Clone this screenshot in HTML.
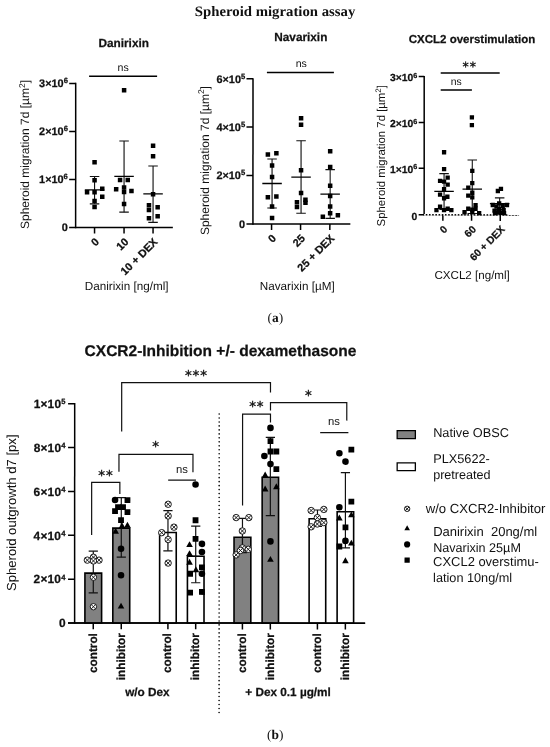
<!DOCTYPE html>
<html><head><meta charset="utf-8"><title>Spheroid migration assay</title>
<style>html,body{margin:0;padding:0;background:#fff;}svg{display:block;}text{text-rendering:geometricPrecision;font-family:'Liberation Sans', sans-serif;fill:#111;}</style></head><body>
<svg width="550" height="747" viewBox="0 0 550 747">
<rect width="550" height="747" fill="#fff"/>
<g transform="rotate(0.02 275 373)">
<text x="275.0" y="15.6" font-size="14.4" font-weight="bold" text-anchor="middle" style="font-family:'Liberation Serif', serif" textLength="160.5" lengthAdjust="spacingAndGlyphs">Spheroid migration assay</text>
<path d="M75.60 82.85 L75.60 228.25" stroke="#000" stroke-width="1.5" fill="none" />
<path d="M69.10 227.60 L172.80 227.60" stroke="#000" stroke-width="1.5" fill="none" />
<path d="M69.10 83.50 L75.60 83.50" stroke="#000" stroke-width="1.5" fill="none" />
<text x="67.80" y="87.42" font-size="10.9" text-anchor="end" font-weight="bold" stroke="#111" stroke-width="0.25" letter-spacing="0">3×10<tspan font-size="7.63" dy="-3.92">6</tspan></text>
<path d="M69.10 131.50 L75.60 131.50" stroke="#000" stroke-width="1.5" fill="none" />
<text x="67.80" y="135.42" font-size="10.9" text-anchor="end" font-weight="bold" stroke="#111" stroke-width="0.25" letter-spacing="0">2×10<tspan font-size="7.63" dy="-3.92">6</tspan></text>
<path d="M69.10 179.50 L75.60 179.50" stroke="#000" stroke-width="1.5" fill="none" />
<text x="67.80" y="183.42" font-size="10.9" text-anchor="end" font-weight="bold" stroke="#111" stroke-width="0.25" letter-spacing="0">1×10<tspan font-size="7.63" dy="-3.92">6</tspan></text>
<text x="67.80" y="231.52" font-size="10.9" text-anchor="end" font-weight="bold" stroke="#111" stroke-width="0.25" >0</text>
<path d="M94.50 227.60 L94.50 233.60" stroke="#000" stroke-width="1.5" fill="none" />
<text x="99.70" y="242.60" font-size="10.9" text-anchor="end" font-weight="bold" stroke="#111" stroke-width="0.25" transform="rotate(-45 99.70 242.60)" >0</text>
<path d="M124.00 227.60 L124.00 233.60" stroke="#000" stroke-width="1.5" fill="none" />
<text x="129.20" y="242.60" font-size="10.9" text-anchor="end" font-weight="bold" stroke="#111" stroke-width="0.25" transform="rotate(-45 129.20 242.60)" >10</text>
<path d="M153.00 227.60 L153.00 233.60" stroke="#000" stroke-width="1.5" fill="none" />
<text x="158.20" y="242.60" font-size="10.9" text-anchor="end" font-weight="bold" stroke="#111" stroke-width="0.25" transform="rotate(-45 158.20 242.60)" >10 + DEX</text>
<path d="M94.50 176.50 L94.50 203.90" stroke="#111" stroke-width="1.1" fill="none" />
<path d="M89.75 176.50 L99.25 176.50" stroke="#111" stroke-width="1.1" fill="none" />
<path d="M89.75 203.90 L99.25 203.90" stroke="#111" stroke-width="1.1" fill="none" />
<path d="M84.75 190.00 L104.25 190.00" stroke="#000" stroke-width="1.3" fill="none" />
<rect x="92.25" y="160.15" width="4.5" height="4.5" fill="#000"/>
<rect x="92.25" y="177.95" width="4.5" height="4.5" fill="#000"/>
<rect x="84.75" y="190.05" width="4.5" height="4.5" fill="#000"/>
<rect x="92.25" y="190.05" width="4.5" height="4.5" fill="#000"/>
<rect x="99.95" y="186.55" width="4.5" height="4.5" fill="#000"/>
<rect x="99.95" y="194.65" width="4.5" height="4.5" fill="#000"/>
<rect x="92.25" y="198.75" width="4.5" height="4.5" fill="#000"/>
<rect x="92.25" y="204.75" width="4.5" height="4.5" fill="#000"/>
<path d="M124.00 141.00 L124.00 212.20" stroke="#111" stroke-width="1.1" fill="none" />
<path d="M119.25 141.00 L128.75 141.00" stroke="#111" stroke-width="1.1" fill="none" />
<path d="M119.25 212.20 L128.75 212.20" stroke="#111" stroke-width="1.1" fill="none" />
<path d="M114.25 176.50 L133.75 176.50" stroke="#000" stroke-width="1.3" fill="none" />
<rect x="121.75" y="88.15" width="4.5" height="4.5" fill="#000"/>
<rect x="117.75" y="177.75" width="4.5" height="4.5" fill="#000"/>
<rect x="125.45" y="177.75" width="4.5" height="4.5" fill="#000"/>
<rect x="113.85" y="186.95" width="4.5" height="4.5" fill="#000"/>
<rect x="121.75" y="185.25" width="4.5" height="4.5" fill="#000"/>
<rect x="121.75" y="189.85" width="4.5" height="4.5" fill="#000"/>
<rect x="129.15" y="188.75" width="4.5" height="4.5" fill="#000"/>
<rect x="121.75" y="201.85" width="4.5" height="4.5" fill="#000"/>
<path d="M153.00 166.10 L153.00 222.40" stroke="#111" stroke-width="1.1" fill="none" />
<path d="M148.25 166.10 L157.75 166.10" stroke="#111" stroke-width="1.1" fill="none" />
<path d="M148.25 222.40 L157.75 222.40" stroke="#111" stroke-width="1.1" fill="none" />
<path d="M143.25 194.00 L162.75 194.00" stroke="#000" stroke-width="1.3" fill="none" />
<rect x="150.75" y="143.55" width="4.5" height="4.5" fill="#000"/>
<rect x="150.75" y="153.95" width="4.5" height="4.5" fill="#000"/>
<rect x="150.75" y="191.95" width="4.5" height="4.5" fill="#000"/>
<rect x="146.65" y="202.95" width="4.5" height="4.5" fill="#000"/>
<rect x="155.35" y="204.95" width="4.5" height="4.5" fill="#000"/>
<rect x="146.65" y="207.85" width="4.5" height="4.5" fill="#000"/>
<rect x="155.35" y="214.15" width="4.5" height="4.5" fill="#000"/>
<rect x="146.65" y="216.15" width="4.5" height="4.5" fill="#000"/>
<text x="123.60" y="46.80" font-size="11.8" text-anchor="middle" font-weight="bold" stroke="#111" stroke-width="0.25" >Danirixin</text>
<text x="126.60" y="290.40" font-size="11.7" text-anchor="middle" >Danirixin [ng/ml]</text>
<text x="29.20" y="154.60" font-size="12.0" text-anchor="middle" transform="rotate(-90 29.20 154.60)">Spheroid migration 7d [µm<tspan font-size="8.40" dy="-4.56">2</tspan><tspan dy="4.56">]</tspan></text>
<path d="M89.00 76.40 L157.00 76.40" stroke="#000" stroke-width="1.5" fill="none" />
<text x="123.00" y="70.80" font-size="10.6" text-anchor="middle" >ns</text>
<path d="M252.90 78.15 L252.90 224.65" stroke="#000" stroke-width="1.5" fill="none" />
<path d="M246.40 224.00 L350.30 224.00" stroke="#000" stroke-width="1.5" fill="none" />
<path d="M246.40 78.80 L252.90 78.80" stroke="#000" stroke-width="1.5" fill="none" />
<text x="245.10" y="82.72" font-size="10.9" text-anchor="end" font-weight="bold" stroke="#111" stroke-width="0.25" letter-spacing="0">6×10<tspan font-size="7.63" dy="-3.92">5</tspan></text>
<path d="M246.40 127.00 L252.90 127.00" stroke="#000" stroke-width="1.5" fill="none" />
<text x="245.10" y="130.92" font-size="10.9" text-anchor="end" font-weight="bold" stroke="#111" stroke-width="0.25" letter-spacing="0">4×10<tspan font-size="7.63" dy="-3.92">5</tspan></text>
<path d="M246.40 175.40 L252.90 175.40" stroke="#000" stroke-width="1.5" fill="none" />
<text x="245.10" y="179.32" font-size="10.9" text-anchor="end" font-weight="bold" stroke="#111" stroke-width="0.25" letter-spacing="0">2×10<tspan font-size="7.63" dy="-3.92">5</tspan></text>
<text x="245.10" y="227.92" font-size="10.9" text-anchor="end" font-weight="bold" stroke="#111" stroke-width="0.25" >0</text>
<path d="M271.50 224.00 L271.50 230.00" stroke="#000" stroke-width="1.5" fill="none" />
<text x="276.70" y="239.00" font-size="10.9" text-anchor="end" font-weight="bold" stroke="#111" stroke-width="0.25" transform="rotate(-45 276.70 239.00)" >0</text>
<path d="M300.50 224.00 L300.50 230.00" stroke="#000" stroke-width="1.5" fill="none" />
<text x="305.70" y="239.00" font-size="10.9" text-anchor="end" font-weight="bold" stroke="#111" stroke-width="0.25" transform="rotate(-45 305.70 239.00)" >25</text>
<path d="M329.80 224.00 L329.80 230.00" stroke="#000" stroke-width="1.5" fill="none" />
<text x="335.00" y="239.00" font-size="10.9" text-anchor="end" font-weight="bold" stroke="#111" stroke-width="0.25" transform="rotate(-45 335.00 239.00)" >25 + DEX</text>
<path d="M272.00 159.00 L272.00 208.00" stroke="#111" stroke-width="1.1" fill="none" />
<path d="M267.25 159.00 L276.75 159.00" stroke="#111" stroke-width="1.1" fill="none" />
<path d="M267.25 208.00 L276.75 208.00" stroke="#111" stroke-width="1.1" fill="none" />
<path d="M262.25 183.50 L281.75 183.50" stroke="#000" stroke-width="1.3" fill="none" />
<rect x="265.55" y="152.25" width="4.5" height="4.5" fill="#000"/>
<rect x="274.05" y="150.95" width="4.5" height="4.5" fill="#000"/>
<rect x="269.75" y="163.25" width="4.5" height="4.5" fill="#000"/>
<rect x="269.75" y="174.85" width="4.5" height="4.5" fill="#000"/>
<rect x="265.55" y="194.95" width="4.5" height="4.5" fill="#000"/>
<rect x="274.05" y="194.15" width="4.5" height="4.5" fill="#000"/>
<rect x="269.75" y="204.15" width="4.5" height="4.5" fill="#000"/>
<rect x="269.75" y="215.75" width="4.5" height="4.5" fill="#000"/>
<path d="M301.00 140.80 L301.00 213.20" stroke="#111" stroke-width="1.1" fill="none" />
<path d="M296.25 140.80 L305.75 140.80" stroke="#111" stroke-width="1.1" fill="none" />
<path d="M296.25 213.20 L305.75 213.20" stroke="#111" stroke-width="1.1" fill="none" />
<path d="M291.25 177.10 L310.75 177.10" stroke="#000" stroke-width="1.3" fill="none" />
<rect x="298.75" y="115.95" width="4.5" height="4.5" fill="#000"/>
<rect x="298.75" y="122.55" width="4.5" height="4.5" fill="#000"/>
<rect x="298.75" y="167.95" width="4.5" height="4.5" fill="#000"/>
<rect x="298.75" y="190.85" width="4.5" height="4.5" fill="#000"/>
<rect x="294.65" y="199.95" width="4.5" height="4.5" fill="#000"/>
<rect x="294.65" y="204.75" width="4.5" height="4.5" fill="#000"/>
<rect x="303.15" y="197.45" width="4.5" height="4.5" fill="#000"/>
<rect x="303.15" y="200.55" width="4.5" height="4.5" fill="#000"/>
<path d="M330.10 169.60 L330.10 218.40" stroke="#111" stroke-width="1.1" fill="none" />
<path d="M325.35 169.60 L334.85 169.60" stroke="#111" stroke-width="1.1" fill="none" />
<path d="M325.35 218.40 L334.85 218.40" stroke="#111" stroke-width="1.1" fill="none" />
<path d="M320.35 194.10 L339.85 194.10" stroke="#000" stroke-width="1.3" fill="none" />
<rect x="327.85" y="148.95" width="4.5" height="4.5" fill="#000"/>
<rect x="327.85" y="164.85" width="4.5" height="4.5" fill="#000"/>
<rect x="327.85" y="183.55" width="4.5" height="4.5" fill="#000"/>
<rect x="327.85" y="193.75" width="4.5" height="4.5" fill="#000"/>
<rect x="327.85" y="204.35" width="4.5" height="4.5" fill="#000"/>
<rect x="327.85" y="210.95" width="4.5" height="4.5" fill="#000"/>
<rect x="320.55" y="214.45" width="4.5" height="4.5" fill="#000"/>
<rect x="335.55" y="213.05" width="4.5" height="4.5" fill="#000"/>
<text x="300.70" y="40.80" font-size="11.8" text-anchor="middle" font-weight="bold" stroke="#111" stroke-width="0.25" >Navarixin</text>
<text x="297.20" y="290.20" font-size="11.7" text-anchor="middle" >Navarixin [µM]</text>
<text x="208.80" y="160.60" font-size="12.0" text-anchor="middle" transform="rotate(-90 208.80 160.60)">Spheroid migration 7d [µm<tspan font-size="8.40" dy="-4.56">2</tspan><tspan dy="4.56">]</tspan></text>
<path d="M266.80 72.50 L333.80 72.50" stroke="#000" stroke-width="1.5" fill="none" />
<text x="301.20" y="66.60" font-size="10.6" text-anchor="middle" >ns</text>
<path d="M424.10 75.85 L424.10 215.45" stroke="#000" stroke-width="1.5" fill="none" />
<path d="M418.60 214.80 L519.00 214.80" stroke="#000" stroke-width="1.5" fill="none" />
<path d="M418.60 76.50 L424.10 76.50" stroke="#000" stroke-width="1.5" fill="none" />
<text x="417.30" y="81.23" font-size="10.35" text-anchor="end" font-weight="bold" stroke="#111" stroke-width="0.25" letter-spacing="0">3×10<tspan font-size="7.24" dy="-3.73">6</tspan></text>
<path d="M418.60 122.50 L424.10 122.50" stroke="#000" stroke-width="1.5" fill="none" />
<text x="417.30" y="127.23" font-size="10.35" text-anchor="end" font-weight="bold" stroke="#111" stroke-width="0.25" letter-spacing="0">2×10<tspan font-size="7.24" dy="-3.73">6</tspan></text>
<path d="M418.60 168.30 L424.10 168.30" stroke="#000" stroke-width="1.5" fill="none" />
<text x="417.30" y="173.03" font-size="10.35" text-anchor="end" font-weight="bold" stroke="#111" stroke-width="0.25" letter-spacing="0">1×10<tspan font-size="7.24" dy="-3.73">6</tspan></text>
<text x="417.30" y="219.53" font-size="10.35" text-anchor="end" font-weight="bold" stroke="#111" stroke-width="0.25" >0</text>
<path d="M442.80 214.80 L442.80 220.80" stroke="#000" stroke-width="1.5" fill="none" />
<text x="448.00" y="229.80" font-size="10.35" text-anchor="end" font-weight="bold" stroke="#111" stroke-width="0.25" transform="rotate(-45 448.00 229.80)" >0</text>
<path d="M471.50 214.80 L471.50 220.80" stroke="#000" stroke-width="1.5" fill="none" />
<text x="476.70" y="229.80" font-size="10.35" text-anchor="end" font-weight="bold" stroke="#111" stroke-width="0.25" transform="rotate(-45 476.70 229.80)" >60</text>
<path d="M500.20 214.80 L500.20 220.80" stroke="#000" stroke-width="1.5" fill="none" />
<text x="505.40" y="229.80" font-size="10.35" text-anchor="end" font-weight="bold" stroke="#111" stroke-width="0.25" transform="rotate(-45 505.40 229.80)" >60 + DEX</text>
<path d="M424.10 214.80 L519.00 214.80" stroke="#fff" stroke-width="1.6" fill="none" stroke-dasharray="1.6 1.6"/>
<path d="M444.00 173.60 L444.00 209.50" stroke="#111" stroke-width="1.1" fill="none" />
<path d="M439.25 173.60 L448.75 173.60" stroke="#111" stroke-width="1.1" fill="none" />
<path d="M439.25 209.50 L448.75 209.50" stroke="#111" stroke-width="1.1" fill="none" />
<path d="M434.25 191.30 L453.75 191.30" stroke="#000" stroke-width="1.3" fill="none" />
<rect x="441.85" y="150.05" width="4.3" height="4.3" fill="#000"/>
<rect x="441.85" y="166.95" width="4.3" height="4.3" fill="#000"/>
<rect x="445.45" y="175.45" width="4.3" height="4.3" fill="#000"/>
<rect x="437.85" y="178.75" width="4.3" height="4.3" fill="#000"/>
<rect x="441.85" y="179.35" width="4.3" height="4.3" fill="#000"/>
<rect x="445.45" y="182.35" width="4.3" height="4.3" fill="#000"/>
<rect x="441.85" y="186.95" width="4.3" height="4.3" fill="#000"/>
<rect x="437.85" y="192.35" width="4.3" height="4.3" fill="#000"/>
<rect x="445.15" y="194.55" width="4.3" height="4.3" fill="#000"/>
<rect x="441.85" y="196.05" width="4.3" height="4.3" fill="#000"/>
<rect x="437.85" y="204.55" width="4.3" height="4.3" fill="#000"/>
<rect x="441.85" y="207.85" width="4.3" height="4.3" fill="#000"/>
<rect x="445.45" y="206.55" width="4.3" height="4.3" fill="#000"/>
<rect x="434.25" y="207.85" width="4.3" height="4.3" fill="#000"/>
<rect x="449.15" y="207.85" width="4.3" height="4.3" fill="#000"/>
<path d="M472.20 160.00 L472.20 213.50" stroke="#111" stroke-width="1.1" fill="none" />
<path d="M467.45 160.00 L476.95 160.00" stroke="#111" stroke-width="1.1" fill="none" />
<path d="M467.45 213.50 L476.95 213.50" stroke="#111" stroke-width="1.1" fill="none" />
<path d="M462.45 189.10 L481.95 189.10" stroke="#000" stroke-width="1.3" fill="none" />
<rect x="469.65" y="115.15" width="4.3" height="4.3" fill="#000"/>
<rect x="469.65" y="122.95" width="4.3" height="4.3" fill="#000"/>
<rect x="470.05" y="168.75" width="4.3" height="4.3" fill="#000"/>
<rect x="470.05" y="180.95" width="4.3" height="4.3" fill="#000"/>
<rect x="466.05" y="185.45" width="4.3" height="4.3" fill="#000"/>
<rect x="470.05" y="190.55" width="4.3" height="4.3" fill="#000"/>
<rect x="466.05" y="193.35" width="4.3" height="4.3" fill="#000"/>
<rect x="470.05" y="195.15" width="4.3" height="4.3" fill="#000"/>
<rect x="473.35" y="202.95" width="4.3" height="4.3" fill="#000"/>
<rect x="466.05" y="206.55" width="4.3" height="4.3" fill="#000"/>
<rect x="470.05" y="207.35" width="4.3" height="4.3" fill="#000"/>
<rect x="473.35" y="206.55" width="4.3" height="4.3" fill="#000"/>
<rect x="462.35" y="210.05" width="4.3" height="4.3" fill="#000"/>
<rect x="470.05" y="210.05" width="4.3" height="4.3" fill="#000"/>
<rect x="476.95" y="210.95" width="4.3" height="4.3" fill="#000"/>
<path d="M499.60 197.80 L499.60 209.50" stroke="#111" stroke-width="1.1" fill="none" />
<path d="M494.85 197.80 L504.35 197.80" stroke="#111" stroke-width="1.1" fill="none" />
<path d="M494.85 209.50 L504.35 209.50" stroke="#111" stroke-width="1.1" fill="none" />
<path d="M489.85 203.60 L509.35 203.60" stroke="#000" stroke-width="1.3" fill="none" />
<rect x="498.75" y="186.55" width="4.3" height="4.3" fill="#000"/>
<rect x="495.65" y="188.75" width="4.3" height="4.3" fill="#000"/>
<rect x="496.95" y="201.15" width="4.3" height="4.3" fill="#000"/>
<rect x="490.55" y="202.75" width="4.3" height="4.3" fill="#000"/>
<rect x="504.75" y="202.75" width="4.3" height="4.3" fill="#000"/>
<rect x="494.25" y="204.25" width="4.3" height="4.3" fill="#000"/>
<rect x="500.55" y="203.65" width="4.3" height="4.3" fill="#000"/>
<rect x="496.95" y="206.55" width="4.3" height="4.3" fill="#000"/>
<rect x="492.35" y="208.35" width="4.3" height="4.3" fill="#000"/>
<rect x="501.45" y="207.85" width="4.3" height="4.3" fill="#000"/>
<rect x="495.15" y="210.25" width="4.3" height="4.3" fill="#000"/>
<rect x="498.75" y="210.55" width="4.3" height="4.3" fill="#000"/>
<rect x="501.85" y="210.95" width="4.3" height="4.3" fill="#000"/>
<rect x="492.75" y="210.95" width="4.3" height="4.3" fill="#000"/>
<text x="471.90" y="42.90" font-size="11.5" text-anchor="middle" font-weight="bold" stroke="#111" stroke-width="0.25" >CXCL2 overstimulation</text>
<text x="472.10" y="278.50" font-size="11.6" text-anchor="middle" >CXCL2 [ng/ml]</text>
<text x="384.80" y="155.70" font-size="11.4" text-anchor="middle" transform="rotate(-90 384.80 155.70)">Spheroid migration 7d [µm<tspan font-size="7.98" dy="-4.33">2</tspan><tspan dy="4.33">]</tspan></text>
<path d="M440.60 73.00 L499.60 73.00" stroke="#000" stroke-width="1.5" fill="none" />
<path d="M440.60 89.90 L471.80 89.90" stroke="#000" stroke-width="1.5" fill="none" />
<text x="469.65" y="71.06" font-size="12.5" text-anchor="middle" letter-spacing="0.9" stroke="#111" stroke-width="0.35" style="font-family:'DejaVu Sans',sans-serif">**</text>
<text x="456.20" y="85.00" font-size="10.4" text-anchor="middle" >ns</text>
<text x="275.3" y="322.4" font-size="13.4" font-weight="bold" text-anchor="middle" style="font-family:'Liberation Serif', serif"><tspan font-weight="normal">(</tspan>a<tspan font-weight="normal">)</tspan></text>
<text x="84.60" y="355.80" font-size="15.5" text-anchor="start" font-weight="bold" stroke="#111" stroke-width="0.25" >CXCR2-Inhibition +/- dexamethasone</text>
<path d="M74.70 403.05 L74.70 623.75" stroke="#000" stroke-width="1.5" fill="none" />
<path d="M68.10 623.10 L365.20 623.10" stroke="#000" stroke-width="1.5" fill="none" />
<path d="M68.10 403.70 L74.70 403.70" stroke="#000" stroke-width="1.5" fill="none" />
<text x="65.70" y="407.98" font-size="11.9" text-anchor="end" font-weight="bold" stroke="#111" stroke-width="0.25" letter-spacing="0.2">1×10<tspan font-size="7.62" dy="-3.57">5</tspan></text>
<path d="M68.10 447.58 L74.70 447.58" stroke="#000" stroke-width="1.5" fill="none" />
<text x="65.70" y="451.86" font-size="11.9" text-anchor="end" font-weight="bold" stroke="#111" stroke-width="0.25" letter-spacing="0.2">8×10<tspan font-size="7.62" dy="-3.57">4</tspan></text>
<path d="M68.10 491.46 L74.70 491.46" stroke="#000" stroke-width="1.5" fill="none" />
<text x="65.70" y="495.74" font-size="11.9" text-anchor="end" font-weight="bold" stroke="#111" stroke-width="0.25" letter-spacing="0.2">6×10<tspan font-size="7.62" dy="-3.57">4</tspan></text>
<path d="M68.10 535.34 L74.70 535.34" stroke="#000" stroke-width="1.5" fill="none" />
<text x="65.70" y="539.62" font-size="11.9" text-anchor="end" font-weight="bold" stroke="#111" stroke-width="0.25" letter-spacing="0.2">4×10<tspan font-size="7.62" dy="-3.57">4</tspan></text>
<path d="M68.10 579.22 L74.70 579.22" stroke="#000" stroke-width="1.5" fill="none" />
<text x="65.70" y="583.50" font-size="11.9" text-anchor="end" font-weight="bold" stroke="#111" stroke-width="0.25" letter-spacing="0.2">2×10<tspan font-size="7.62" dy="-3.57">4</tspan></text>
<text x="65.70" y="627.38" font-size="11.9" text-anchor="end" font-weight="bold" stroke="#111" stroke-width="0.25" >0</text>
<text x="15.7" y="512.8" font-size="13.1" text-anchor="middle" transform="rotate(-90 15.7 512.8)">Spheroid outgrowth d7 [px]</text>
<path d="M219.20 414.00 L219.20 713.00" stroke="#000" stroke-width="1.6" fill="none" stroke-dasharray="0.01 3.97" stroke-linecap="round"/>
<rect x="85.00" y="573.20" width="16.70" height="49.90" fill="#818181" stroke="#000" stroke-width="1.6"/>
<path d="M93.35 623.10 L93.35 629.40" stroke="#000" stroke-width="1.5" fill="none" />
<path d="M93.35 551.20 L93.35 592.90" stroke="#111" stroke-width="1.2" fill="none" />
<path d="M88.75 551.20 L97.95 551.20" stroke="#111" stroke-width="1.2" fill="none" />
<path d="M88.75 592.90 L97.95 592.90" stroke="#111" stroke-width="1.2" fill="none" />
<text x="96.95" y="633.20" font-size="11.75" text-anchor="end" font-weight="bold" stroke="#111" stroke-width="0.25" transform="rotate(-90 96.95 633.20)" >control</text>
<rect x="112.90" y="528.20" width="16.90" height="94.90" fill="#818181" stroke="#000" stroke-width="1.6"/>
<path d="M121.35 623.10 L121.35 629.40" stroke="#000" stroke-width="1.5" fill="none" />
<path d="M121.35 497.60 L121.35 557.20" stroke="#111" stroke-width="1.2" fill="none" />
<path d="M116.75 497.60 L125.95 497.60" stroke="#111" stroke-width="1.2" fill="none" />
<path d="M116.75 557.20 L125.95 557.20" stroke="#111" stroke-width="1.2" fill="none" />
<text x="124.95" y="633.20" font-size="11.75" text-anchor="end" font-weight="bold" stroke="#111" stroke-width="0.25" transform="rotate(-90 124.95 633.20)" >inhibitor</text>
<rect x="159.70" y="532.50" width="16.60" height="90.60" fill="#fff" stroke="#000" stroke-width="1.6"/>
<path d="M168.00 623.10 L168.00 629.40" stroke="#000" stroke-width="1.5" fill="none" />
<path d="M168.00 510.70 L168.00 550.90" stroke="#111" stroke-width="1.2" fill="none" />
<path d="M163.40 510.70 L172.60 510.70" stroke="#111" stroke-width="1.2" fill="none" />
<path d="M163.40 550.90 L172.60 550.90" stroke="#111" stroke-width="1.2" fill="none" />
<text x="171.60" y="633.20" font-size="11.75" text-anchor="end" font-weight="bold" stroke="#111" stroke-width="0.25" transform="rotate(-90 171.60 633.20)" >control</text>
<rect x="187.50" y="556.20" width="16.60" height="66.90" fill="#fff" stroke="#000" stroke-width="1.6"/>
<path d="M195.80 623.10 L195.80 629.40" stroke="#000" stroke-width="1.5" fill="none" />
<path d="M195.80 526.10 L195.80 582.80" stroke="#111" stroke-width="1.2" fill="none" />
<path d="M191.20 526.10 L200.40 526.10" stroke="#111" stroke-width="1.2" fill="none" />
<path d="M191.20 582.80 L200.40 582.80" stroke="#111" stroke-width="1.2" fill="none" />
<text x="199.40" y="633.20" font-size="11.75" text-anchor="end" font-weight="bold" stroke="#111" stroke-width="0.25" transform="rotate(-90 199.40 633.20)" >inhibitor</text>
<rect x="234.10" y="537.20" width="16.80" height="85.90" fill="#818181" stroke="#000" stroke-width="1.6"/>
<path d="M242.50 623.10 L242.50 629.40" stroke="#000" stroke-width="1.5" fill="none" />
<path d="M242.50 518.40 L242.50 552.70" stroke="#111" stroke-width="1.2" fill="none" />
<path d="M237.90 518.40 L247.10 518.40" stroke="#111" stroke-width="1.2" fill="none" />
<path d="M237.90 552.70 L247.10 552.70" stroke="#111" stroke-width="1.2" fill="none" />
<text x="246.10" y="633.20" font-size="11.75" text-anchor="end" font-weight="bold" stroke="#111" stroke-width="0.25" transform="rotate(-90 246.10 633.20)" >control</text>
<rect x="262.20" y="477.20" width="16.40" height="145.90" fill="#818181" stroke="#000" stroke-width="1.6"/>
<path d="M270.40 623.10 L270.40 629.40" stroke="#000" stroke-width="1.5" fill="none" />
<path d="M270.40 437.40 L270.40 515.60" stroke="#111" stroke-width="1.2" fill="none" />
<path d="M265.80 437.40 L275.00 437.40" stroke="#111" stroke-width="1.2" fill="none" />
<path d="M265.80 515.60 L275.00 515.60" stroke="#111" stroke-width="1.2" fill="none" />
<text x="274.00" y="633.20" font-size="11.75" text-anchor="end" font-weight="bold" stroke="#111" stroke-width="0.25" transform="rotate(-90 274.00 633.20)" >inhibitor</text>
<rect x="309.20" y="518.80" width="16.60" height="104.30" fill="#fff" stroke="#000" stroke-width="1.6"/>
<path d="M317.50 623.10 L317.50 629.40" stroke="#000" stroke-width="1.5" fill="none" />
<path d="M317.50 510.00 L317.50 526.30" stroke="#111" stroke-width="1.2" fill="none" />
<path d="M312.90 510.00 L322.10 510.00" stroke="#111" stroke-width="1.2" fill="none" />
<path d="M312.90 526.30 L322.10 526.30" stroke="#111" stroke-width="1.2" fill="none" />
<text x="321.10" y="633.20" font-size="11.75" text-anchor="end" font-weight="bold" stroke="#111" stroke-width="0.25" transform="rotate(-90 321.10 633.20)" >control</text>
<rect x="337.20" y="511.70" width="16.50" height="111.40" fill="#fff" stroke="#000" stroke-width="1.6"/>
<path d="M345.45 623.10 L345.45 629.40" stroke="#000" stroke-width="1.5" fill="none" />
<path d="M345.45 472.60 L345.45 547.90" stroke="#111" stroke-width="1.2" fill="none" />
<path d="M340.85 472.60 L350.05 472.60" stroke="#111" stroke-width="1.2" fill="none" />
<path d="M340.85 547.90 L350.05 547.90" stroke="#111" stroke-width="1.2" fill="none" />
<text x="349.05" y="633.20" font-size="11.75" text-anchor="end" font-weight="bold" stroke="#111" stroke-width="0.25" transform="rotate(-90 349.05 633.20)" >inhibitor</text>
<path d="M68.10 623.10 L365.20 623.10" stroke="#000" stroke-width="1.5" fill="none" />
<g stroke="#111" stroke-width="0.95" fill="#fff"><circle cx="87.40" cy="560.20" r="3.2"/><path d="M85.14 557.94 L89.66 562.46 M85.14 562.46 L89.66 557.94" fill="none"/></g>
<g stroke="#111" stroke-width="0.95" fill="#fff"><circle cx="93.50" cy="557.30" r="3.2"/><path d="M91.24 555.04 L95.76 559.56 M91.24 559.56 L95.76 555.04" fill="none"/></g>
<g stroke="#111" stroke-width="0.95" fill="#fff"><circle cx="99.10" cy="560.20" r="3.2"/><path d="M96.84 557.94 L101.36 562.46 M96.84 562.46 L101.36 557.94" fill="none"/></g>
<g stroke="#111" stroke-width="0.95" fill="#fff"><circle cx="93.50" cy="561.00" r="3.2"/><path d="M91.24 558.74 L95.76 563.26 M91.24 563.26 L95.76 558.74" fill="none"/></g>
<g stroke="#111" stroke-width="0.95" fill="#fff"><circle cx="93.50" cy="577.30" r="3.2"/><path d="M91.24 575.04 L95.76 579.56 M91.24 579.56 L95.76 575.04" fill="none"/></g>
<g stroke="#111" stroke-width="0.95" fill="#fff"><circle cx="93.50" cy="606.80" r="3.2"/><path d="M91.24 604.54 L95.76 609.06 M91.24 609.06 L95.76 604.54" fill="none"/></g>
<circle cx="115.10" cy="500.10" r="3.3" fill="#000"/>
<rect x="124.60" y="497.20" width="5.8" height="5.8" fill="#000"/>
<rect x="115.20" y="504.20" width="5.8" height="5.8" fill="#000"/>
<rect x="120.20" y="504.20" width="5.8" height="5.8" fill="#000"/>
<rect x="112.20" y="508.20" width="5.8" height="5.8" fill="#000"/>
<rect x="124.60" y="509.20" width="5.8" height="5.8" fill="#000"/>
<rect x="118.20" y="517.20" width="5.8" height="5.8" fill="#000"/>
<path d="M127.50 521.80 L130.80 527.74 L124.20 527.74 Z" fill="#000"/>
<path d="M122.10 522.40 L125.40 528.34 L118.80 528.34 Z" fill="#000"/>
<path d="M115.70 527.80 L119.00 533.74 L112.40 533.74 Z" fill="#000"/>
<path d="M121.10 602.70 L124.40 608.64 L117.80 608.64 Z" fill="#000"/>
<circle cx="121.10" cy="548.80" r="3.3" fill="#000"/>
<circle cx="121.10" cy="575.30" r="3.3" fill="#000"/>
<g stroke="#111" stroke-width="0.95" fill="#fff"><circle cx="168.20" cy="504.30" r="3.2"/><path d="M165.94 502.04 L170.46 506.56 M165.94 506.56 L170.46 502.04" fill="none"/></g>
<g stroke="#111" stroke-width="0.95" fill="#fff"><circle cx="168.20" cy="516.00" r="3.2"/><path d="M165.94 513.74 L170.46 518.26 M165.94 518.26 L170.46 513.74" fill="none"/></g>
<g stroke="#111" stroke-width="0.95" fill="#fff"><circle cx="174.00" cy="527.20" r="3.2"/><path d="M171.74 524.94 L176.26 529.46 M171.74 529.46 L176.26 524.94" fill="none"/></g>
<g stroke="#111" stroke-width="0.95" fill="#fff"><circle cx="161.80" cy="532.70" r="3.2"/><path d="M159.54 530.44 L164.06 534.96 M159.54 534.96 L164.06 530.44" fill="none"/></g>
<g stroke="#111" stroke-width="0.95" fill="#fff"><circle cx="168.20" cy="539.60" r="3.2"/><path d="M165.94 537.34 L170.46 541.86 M165.94 541.86 L170.46 537.34" fill="none"/></g>
<g stroke="#111" stroke-width="0.95" fill="#fff"><circle cx="168.20" cy="563.10" r="3.2"/><path d="M165.94 560.84 L170.46 565.36 M165.94 565.36 L170.46 560.84" fill="none"/></g>
<circle cx="195.60" cy="484.60" r="3.3" fill="#000"/>
<rect x="192.70" y="517.40" width="5.8" height="5.8" fill="#000"/>
<rect x="192.70" y="536.00" width="5.8" height="5.8" fill="#000"/>
<rect x="199.10" y="564.50" width="5.8" height="5.8" fill="#000"/>
<rect x="187.30" y="570.90" width="5.8" height="5.8" fill="#000"/>
<rect x="187.30" y="589.80" width="5.8" height="5.8" fill="#000"/>
<rect x="199.10" y="589.10" width="5.8" height="5.8" fill="#000"/>
<circle cx="202.00" cy="543.90" r="3.3" fill="#000"/>
<circle cx="202.00" cy="552.00" r="3.3" fill="#000"/>
<circle cx="202.00" cy="573.80" r="3.3" fill="#000"/>
<path d="M189.60 541.20 L192.90 547.14 L186.30 547.14 Z" fill="#000"/>
<path d="M189.60 550.20 L192.90 556.14 L186.30 556.14 Z" fill="#000"/>
<path d="M189.60 558.80 L192.90 564.74 L186.30 564.74 Z" fill="#000"/>
<path d="M196.00 566.30 L199.30 572.24 L192.70 572.24 Z" fill="#000"/>
<g stroke="#111" stroke-width="0.95" fill="#fff"><circle cx="236.20" cy="517.60" r="3.2"/><path d="M233.94 515.34 L238.46 519.86 M233.94 519.86 L238.46 515.34" fill="none"/></g>
<g stroke="#111" stroke-width="0.95" fill="#fff"><circle cx="248.90" cy="517.60" r="3.2"/><path d="M246.64 515.34 L251.16 519.86 M246.64 519.86 L251.16 515.34" fill="none"/></g>
<g stroke="#111" stroke-width="0.95" fill="#fff"><circle cx="242.40" cy="531.00" r="3.2"/><path d="M240.14 528.74 L244.66 533.26 M240.14 533.26 L244.66 528.74" fill="none"/></g>
<g stroke="#111" stroke-width="0.95" fill="#fff"><circle cx="242.40" cy="547.90" r="3.2"/><path d="M240.14 545.64 L244.66 550.16 M240.14 550.16 L244.66 545.64" fill="none"/></g>
<g stroke="#111" stroke-width="0.95" fill="#fff"><circle cx="248.30" cy="549.30" r="3.2"/><path d="M246.04 547.04 L250.56 551.56 M246.04 551.56 L250.56 547.04" fill="none"/></g>
<g stroke="#111" stroke-width="0.95" fill="#fff"><circle cx="236.20" cy="554.90" r="3.2"/><path d="M233.94 552.64 L238.46 557.16 M233.94 557.16 L238.46 552.64" fill="none"/></g>
<g stroke="#111" stroke-width="0.95" fill="#fff"><circle cx="240.50" cy="550.50" r="3.2"/><path d="M238.24 548.24 L242.76 552.76 M238.24 552.76 L242.76 548.24" fill="none"/></g>
<circle cx="270.50" cy="427.90" r="3.3" fill="#000"/>
<circle cx="264.40" cy="456.00" r="3.3" fill="#000"/>
<circle cx="270.50" cy="464.10" r="3.3" fill="#000"/>
<circle cx="270.50" cy="541.40" r="3.3" fill="#000"/>
<rect x="267.60" y="438.20" width="5.8" height="5.8" fill="#000"/>
<rect x="267.60" y="448.60" width="5.8" height="5.8" fill="#000"/>
<rect x="273.50" y="448.60" width="5.8" height="5.8" fill="#000"/>
<rect x="273.50" y="466.30" width="5.8" height="5.8" fill="#000"/>
<path d="M265.20 471.50 L268.50 477.44 L261.90 477.44 Z" fill="#000"/>
<path d="M265.20 485.60 L268.50 491.54 L261.90 491.54 Z" fill="#000"/>
<path d="M276.40 483.30 L279.70 489.24 L273.10 489.24 Z" fill="#000"/>
<path d="M270.50 555.90 L273.80 561.84 L267.20 561.84 Z" fill="#000"/>
<g stroke="#111" stroke-width="0.95" fill="#fff"><circle cx="311.20" cy="510.50" r="3.2"/><path d="M308.94 508.24 L313.46 512.76 M308.94 512.76 L313.46 508.24" fill="none"/></g>
<g stroke="#111" stroke-width="0.95" fill="#fff"><circle cx="323.90" cy="509.40" r="3.2"/><path d="M321.64 507.14 L326.16 511.66 M321.64 511.66 L326.16 507.14" fill="none"/></g>
<g stroke="#111" stroke-width="0.95" fill="#fff"><circle cx="317.40" cy="517.60" r="3.2"/><path d="M315.14 515.34 L319.66 519.86 M315.14 519.86 L319.66 515.34" fill="none"/></g>
<g stroke="#111" stroke-width="0.95" fill="#fff"><circle cx="323.90" cy="522.60" r="3.2"/><path d="M321.64 520.34 L326.16 524.86 M321.64 524.86 L326.16 520.34" fill="none"/></g>
<g stroke="#111" stroke-width="0.95" fill="#fff"><circle cx="311.20" cy="526.80" r="3.2"/><path d="M308.94 524.54 L313.46 529.06 M308.94 529.06 L313.46 524.54" fill="none"/></g>
<g stroke="#111" stroke-width="0.95" fill="#fff"><circle cx="317.40" cy="524.00" r="3.2"/><path d="M315.14 521.74 L319.66 526.26 M315.14 526.26 L319.66 521.74" fill="none"/></g>
<circle cx="339.40" cy="453.20" r="3.3" fill="#000"/>
<circle cx="345.50" cy="461.60" r="3.3" fill="#000"/>
<circle cx="339.40" cy="507.20" r="3.3" fill="#000"/>
<circle cx="345.50" cy="540.90" r="3.3" fill="#000"/>
<rect x="348.50" y="446.60" width="5.8" height="5.8" fill="#000"/>
<rect x="348.50" y="498.60" width="5.8" height="5.8" fill="#000"/>
<rect x="342.60" y="524.50" width="5.8" height="5.8" fill="#000"/>
<rect x="336.50" y="543.60" width="5.8" height="5.8" fill="#000"/>
<path d="M339.40 514.50 L342.70 520.44 L336.10 520.44 Z" fill="#000"/>
<path d="M351.40 511.40 L354.70 517.34 L348.10 517.34 Z" fill="#000"/>
<path d="M351.40 539.60 L354.70 545.54 L348.10 545.54 Z" fill="#000"/>
<path d="M345.50 557.30 L348.80 563.24 L342.20 563.24 Z" fill="#000"/>
<path d="M91.70 535.00 L91.70 482.40 L119.90 482.40 L119.90 494.00" stroke="#111" stroke-width="1.2" fill="none"/>
<text x="105.95" y="479.58" font-size="13.5" text-anchor="middle" letter-spacing="0.9" stroke="#111" stroke-width="0.35" style="font-family:'DejaVu Sans',sans-serif">**</text>
<path d="M119.00 471.80 L119.00 454.40 L193.00 454.40 L193.00 472.30" stroke="#111" stroke-width="1.2" fill="none"/>
<text x="156.15" y="451.18" font-size="13.5" text-anchor="middle" letter-spacing="0.9" stroke="#111" stroke-width="0.35" style="font-family:'DejaVu Sans',sans-serif">*</text>
<path d="M168.20 480.20 L196.00 480.20" stroke="#111" stroke-width="1.3" fill="none"/>
<text x="181.90" y="473.00" font-size="11.3" text-anchor="middle" >ns</text>
<path d="M121.70 431.50 L121.70 382.70 L270.50 382.70 L270.50 392.40" stroke="#111" stroke-width="1.2" fill="none"/>
<text x="196.45" y="379.98" font-size="13.5" text-anchor="middle" letter-spacing="0.9" stroke="#111" stroke-width="0.35" style="font-family:'DejaVu Sans',sans-serif">***</text>
<path d="M242.60 505.50 L242.60 414.10 L270.50 414.10 L270.50 422.40" stroke="#111" stroke-width="1.2" fill="none"/>
<text x="256.85" y="411.18" font-size="13.5" text-anchor="middle" letter-spacing="0.9" stroke="#111" stroke-width="0.35" style="font-family:'DejaVu Sans',sans-serif">**</text>
<path d="M270.50 410.50 L270.50 402.50 L346.80 402.50 L346.80 420.60" stroke="#111" stroke-width="1.2" fill="none"/>
<text x="308.85" y="399.58" font-size="13.5" text-anchor="middle" letter-spacing="0.9" stroke="#111" stroke-width="0.35" style="font-family:'DejaVu Sans',sans-serif">*</text>
<path d="M320.20 432.60 L348.40 432.60" stroke="#111" stroke-width="1.3" fill="none"/>
<text x="333.90" y="425.00" font-size="11.3" text-anchor="middle" >ns</text>
<text x="147.50" y="696.20" font-size="11.75" text-anchor="middle" font-weight="bold" stroke="#111" stroke-width="0.25" >w/o Dex</text>
<text x="288.20" y="696.20" font-size="11.75" text-anchor="middle" font-weight="bold" stroke="#111" stroke-width="0.25" >+ Dex 0.1 µg/ml</text>
<rect x="397.2" y="430.5" width="18.2" height="8" fill="#818181" stroke="#000" stroke-width="1.3"/>
<rect x="397.2" y="462.8" width="18.2" height="7.8" fill="#fff" stroke="#000" stroke-width="1.3"/>
<text x="433.20" y="437.10" font-size="12.75" text-anchor="start" >Native OBSC</text>
<text x="433.20" y="462.80" font-size="12.75" text-anchor="start" >PLX5622-</text>
<text x="433.20" y="478.80" font-size="12.6" text-anchor="start" >pretreated</text>
<g stroke="#111" stroke-width="0.95" fill="#fff"><circle cx="407.20" cy="508.80" r="2.7"/><path d="M405.29 506.89 L409.11 510.71 M405.29 510.71 L409.11 506.89" fill="none"/></g>
<text x="425.70" y="512.80" font-size="13.15" text-anchor="start" >w/o CXCR2-Inhibitor</text>
<path d="M407.20 525.10 L410.00 530.14 L404.40 530.14 Z" fill="#000"/>
<text x="433.20" y="536.00" font-size="13.0" text-anchor="start" xml:space="preserve">Danirixin  20ng/ml</text>
<circle cx="407.20" cy="544.40" r="3.1" fill="#000"/>
<text x="433.20" y="551.50" font-size="12.6" text-anchor="start" >Navarixin 25µM</text>
<rect x="404.60" y="557.50" width="5.2" height="5.2" fill="#000"/>
<text x="433.20" y="566.30" font-size="12.95" text-anchor="start" >CXCL2 overstimu-</text>
<text x="433.20" y="581.80" font-size="12.7" text-anchor="start" >lation 10ng/ml</text>
<text x="275.4" y="739.4" font-size="13.4" font-weight="bold" text-anchor="middle" style="font-family:'Liberation Serif', serif"><tspan font-weight="normal">(</tspan>b<tspan font-weight="normal">)</tspan></text>
</g></svg></body></html>
